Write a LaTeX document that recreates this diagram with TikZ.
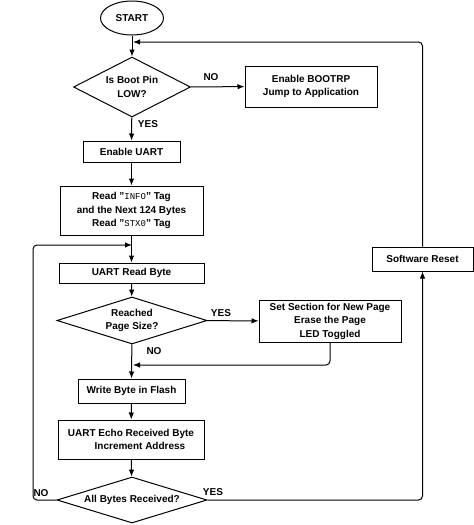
\documentclass[tikz,border=0pt]{standalone}
\usepackage{fontspec}
\setmainfont{Liberation Sans}
\newfontfamily\monotag{Liberation Mono}
\usetikzlibrary{shapes.geometric,arrows.meta}

\newcommand{\tagmono}[1]{{\monotag\mdseries\fontsize{9}{13.5}\selectfont #1}}

\begin{document}
\begin{tikzpicture}[
    x=1pt, y=-1pt,
    caja/.style={draw=black, fill=white, line width=1pt, inner sep=0pt, align=center, font=\fontsize{10}{13.5}\selectfont\bfseries},
    rombo/.style={diamond, draw=black, fill=white, line width=1pt, inner sep=0pt, align=center, font=\fontsize{10}{13.5}\selectfont\bfseries},
    inicio/.style={ellipse, draw=black, fill=white, line width=1pt, inner sep=0pt, minimum width=63, minimum height=34, font=\fontsize{10}{12}\selectfont\bfseries},
    etiqueta/.style={inner sep=0pt, font=\fontsize{10}{12}\selectfont\bfseries},
    linea/.style={line width=1pt, draw=black, rounded corners=4pt},
    flecha/.style={linea, -{Latex[length=7pt,width=5.5pt]}}
]
    \useasboundingbox (0,0) rectangle (474,525);

    % --- INICIO Y PIN DE ARRANQUE ---
    \node[inicio] (start) at (132, 18) {START};
    \node[rombo, aspect=2, minimum width=117, minimum height=60] (D1) at (132, 87) {Is Boot Pin\\LOW?};
    \node[caja, minimum width=132, minimum height=41] (B1) at (311, 86.5) {Enable BOOTRP\\Jump to Application};
    \coordinate (retorno) at (133, 42);

    \draw[flecha] (start) -- (D1);
    \draw[flecha] (D1) -- (B1);
    \node[etiqueta] (no1) at (211, 77) {NO};

    % --- CONFIGURACION UART ---
    \node[caja, minimum width=97, minimum height=21] (B2) at (131.5, 151.5) {Enable UART};
    \node[caja, minimum width=143, minimum height=49] (B3) at (131.5, 210.5)
        {Read "\tagmono{INFO}" Tag\\and the Next 124 Bytes\\Read "\tagmono{STX0}" Tag};
    \draw[flecha] (D1) -- (B2);
    \node[etiqueta] (si1) at (148, 124) {YES};
    \draw[flecha] (B2) -- (B3);

    % --- LAZO DE LECTURA ---
    \node[caja, minimum width=145, minimum height=20] (B4) at (131.5, 273) {UART Read Byte};
    \node[rombo, aspect=3.2, minimum width=150, minimum height=47] (D2) at (132, 320.5) {Reached\\Page Size?};
    \node[caja, minimum width=142, minimum height=42] (B5) at (330, 321)
        {Set Section for New Page\\Erase the Page\\LED Toggled};
    \coordinate (lazo) at (132, 245);
    \coordinate (union) at (133, 365);

    \draw[flecha] (B3) -- (B4);
    \draw[flecha] (B4) -- (D2);
    \draw[flecha] (D2) -- (B5);
    \node[etiqueta] (si2) at (221, 313) {YES};
    \draw[flecha] (B5.south) |- (union);

    % --- ESCRITURA EN FLASH ---
    \node[caja, minimum width=107, minimum height=24] (B6) at (131.5, 391) {Write Byte in Flash};
    \node[caja, minimum width=146, minimum height=39] (B7) at (131, 439.5)
        {UART Echo Received Byte\\\hspace*{18pt}Increment Address};
    \node[rombo, aspect=3.2, minimum width=150, minimum height=46] (D3) at (132, 500) {All Bytes Received?};

    \draw[flecha] (D2) -- (B6);
    \node[etiqueta] (no2) at (154, 351) {NO};
    \draw[flecha] (B6) -- (B7);
    \draw[flecha] (B7) -- (D3);

    % --- SALIDAS DEL ULTIMO ROMBO ---
    \node[caja, minimum width=101, minimum height=24] (B8) at (422.5, 259) {Software Reset};
    \draw[flecha] (D3.west) -- (33, 500) -- (33, 245) -- (lazo);
    \node[etiqueta] (no3) at (41, 493) {NO};
    \draw[flecha] (D3.east) -| (B8.south);
    \node[etiqueta] (si3) at (213, 492) {YES};
    \draw[flecha] (B8.north) |- (retorno);
\end{tikzpicture}
\end{document}
